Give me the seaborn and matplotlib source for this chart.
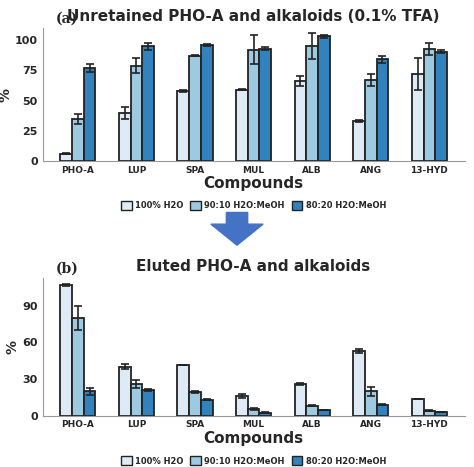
import numpy as np
import pandas as pd
import matplotlib
matplotlib.use("Agg")
import matplotlib.pyplot as plt
import seaborn as sns
from matplotlib.patches import FancyArrow, Patch

compounds = ["PHO-A", "LUP", "SPA", "MUL", "ALB", "ANG", "13-HYD"]
conditions = ["100% H2O", "90:10 H2O:MeOH", "80:20 H2O:MeOH"]
colors = ["#deebf7", "#9ecae1", "#3182bd"]

# (a) unretained
a_h2o = [6, 40, 58, 59, 66, 33, 72]
a_h2o_err = [0.5, 5, 0.5, 0.5, 4, 1, 13]
a_9010 = [35, 79, 87, 92, 95, 67, 93]
a_9010_err = [4, 6, 0.5, 12, 11, 5, 5]
a_8020 = [77, 95, 96, 93, 103, 84, 90.5]
a_8020_err = [3, 3, 1, 1, 1, 3, 1]

# (b) eluted
b_h2o = [107, 40, 41.5, 16, 26, 53, 13.5]
b_h2o_err = [1, 2, 0.3, 1.5, 0.5, 2, 0]
b_9010 = [80, 26, 19.5, 5.5, 8, 20, 4]
b_9010_err = [10, 3, 1, 1, 0.5, 3.5, 0.5]
b_8020 = [20, 21, 13, 2.5, 4.5, 9, 3]
b_8020_err = [3, 0.5, 0.5, 0.3, 0.2, 0.3, 0.2]


def make_df(vals, errs):
    rows = []
    for cond, v, e in zip(conditions, vals, errs):
        for c, vi, ei in zip(compounds, v, e):
            rows.append({"Compounds": c, "cond": cond, "val": vi, "err": ei})
    return pd.DataFrame(rows)


def draw(ax, df, yticks, ylim, title, tag):
    sns.barplot(data=df, x="Compounds", y="val", hue="cond", hue_order=conditions,
                palette=colors, saturation=1, edgecolor="#222222", linewidth=1.3,
                width=0.6, ax=ax, legend=False)
    for cont, cond in zip(ax.containers, conditions):
        sub = df[df["cond"] == cond]
        xs = [p.get_x() + p.get_width() / 2 for p in cont.patches]
        ax.errorbar(xs, sub["val"].values, yerr=sub["err"].values, fmt="none",
                    ecolor="#222222", elinewidth=1.2, capsize=3, capthick=1.2)
    ax.set_yticks(yticks)
    ax.set_ylim(*ylim)
    ax.set_xlim(-0.6, 6.6)
    ax.set_ylabel("%", fontsize=10, fontweight="bold", labelpad=2)
    ax.set_xlabel("Compounds", fontsize=11, fontweight="bold", labelpad=1)
    ax.tick_params(axis="x", labelsize=6.5, length=0)
    ax.tick_params(axis="y", labelsize=8, length=0)
    for lab in ax.get_xticklabels() + ax.get_yticklabels():
        lab.set_fontweight("bold")
    for s in ["top", "right"]:
        ax.spines[s].set_visible(False)
    for s in ["left", "bottom"]:
        ax.spines[s].set_color("#999999")
    ax.set_title(title, fontsize=11, fontweight="bold", pad=5)
    ax.text(0.03, 1.04, tag, transform=ax.transAxes, fontsize=10,
            fontweight="bold", family="DejaVu Serif")
    handles = [Patch(facecolor=c, edgecolor="#222222", label=l) for c, l in zip(colors, conditions)]
    ax.legend(handles=handles, loc="upper center", bbox_to_anchor=(0.5, -0.24),
              ncol=3, frameon=False, handlelength=1.3, handleheight=1.3,
              columnspacing=0.8, handletextpad=0.4, prop={"weight": "bold", "size": 6})


sns.set_style("white")
fig = plt.figure(figsize=(4.74, 4.67), dpi=100)
ax1 = fig.add_axes([0.09, 0.655, 0.89, 0.285])
ax2 = fig.add_axes([0.09, 0.11, 0.89, 0.295])

draw(ax1, make_df([a_h2o, a_9010, a_8020], [a_h2o_err, a_9010_err, a_8020_err]),
     [0, 25, 50, 75, 100], (0, 110), "Unretained PHO-A and alkaloids (0.1% TFA)", "(a)")
draw(ax2, make_df([b_h2o, b_9010, b_8020], [b_h2o_err, b_9010_err, b_8020_err]),
     [0, 30, 60, 90], (0, 113), "Eluted PHO-A and alkaloids", "(b)")

fig.patches.append(FancyArrow(0.5, 0.545, 0, -0.025, width=0.045, head_width=0.11,
                              head_length=0.045, length_includes_head=False,
                              color="#4472c4", transform=fig.transFigure, figure=fig))

fig.savefig("out.png", dpi=100)
